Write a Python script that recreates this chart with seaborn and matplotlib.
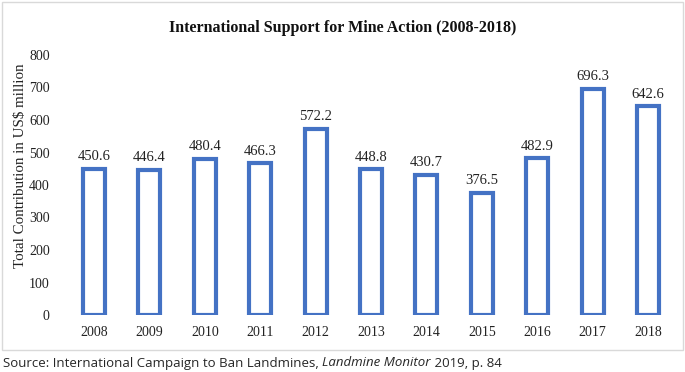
import matplotlib
matplotlib.use("Agg")
import matplotlib.pyplot as plt
import seaborn as sns
import pandas as pd
from matplotlib.patches import Rectangle

# data
years = ["2008", "2009", "2010", "2011", "2012", "2013", "2014", "2015", "2016", "2017", "2018"]
contributions = [450.6, 446.4, 480.4, 466.3, 572.2, 448.8, 430.7, 376.5, 482.9, 696.3, 642.6]

df = pd.DataFrame({"Year": years, "Contribution": contributions})

sns.set_theme(style="white")
plt.rcParams["font.family"] = ["Liberation Serif", "DejaVu Serif"]

fig = plt.figure(figsize=[6.85, 3.72], dpi=100)
ax = fig.add_axes([66.3 / 685, 57 / 372, (675.7 - 66.3) / 685, 260 / 372])

sns.barplot(data=df, x="Year", y="Contribution", ax=ax, fill=False,
            color="#4472C4", width=0.4, linewidth=3, errorbar=None)

for c in ax.containers:
    ax.bar_label(c, fmt="%.1f", padding=4, fontsize=10.5, color="#222222")

ax.set_ylim(0, 800)
ax.set_yticks(range(0, 801, 100))
ax.set_xlim(-0.5, 10.5)
ax.set_xlabel("")
ax.set_ylabel("Total Contribution in US$ million", fontsize=10.8, color="#222222")
ax.yaxis.set_label_coords(-0.064, 0.573)
ax.tick_params(axis="both", labelsize=10, colors="#222222", length=0, pad=8)
ax.tick_params(axis="y", pad=12)
sns.despine(ax=ax, left=True, bottom=True)

fig.text(0.5, 1 - 28 / 372, "International Support for Mine Action (2008-2018)",
         ha="center", va="center", fontsize=11.5, fontweight="bold", color="#111111")

# chart border and source line
fig.patches.append(Rectangle((2 / 685, 1 - 350 / 372), 681 / 685, 348 / 372,
                             transform=fig.transFigure, fill=False,
                             edgecolor="#d9d9d9", linewidth=1))
y_src = 1 - 363 / 372
src = fig.text(3 / 685, y_src, "Source: International Campaign to Ban Landmines, ",
               ha="left", va="center", fontsize=9.5, family=["Open Sans", "DejaVu Sans"])
fig.canvas.draw()
bb = src.get_window_extent()
it = fig.text(bb.x1 / 685, y_src, "Landmine Monitor", ha="left", va="center",
              fontsize=9.5, style="italic", family=["Open Sans", "DejaVu Sans"])
fig.canvas.draw()
bb2 = it.get_window_extent()
fig.text(bb2.x1 / 685, y_src, " 2019, p. 84", ha="left", va="center",
         fontsize=9.5, family=["Open Sans", "DejaVu Sans"])

fig.savefig("out.png", dpi=100)
